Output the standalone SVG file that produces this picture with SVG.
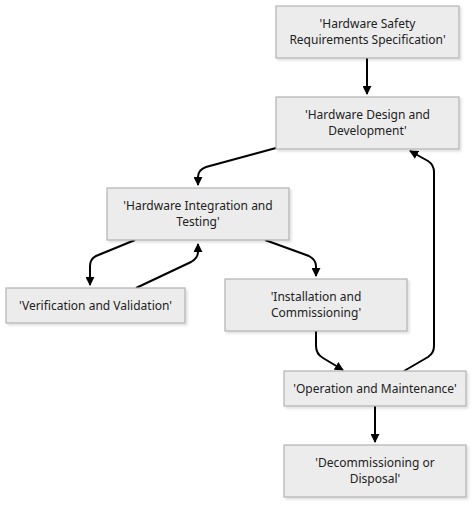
<svg xmlns="http://www.w3.org/2000/svg" width="474" height="505" viewBox="0 0 474 505">
<defs>
<filter id="sh" x="-5%" y="-5%" width="115%" height="130%"><feDropShadow dx="2" dy="2" stdDeviation="1.2" flood-color="#000" flood-opacity="0.12"/></filter>
<marker id="ah" viewBox="0 0 10 10" refX="9" refY="5" markerWidth="9" markerHeight="9" markerUnits="userSpaceOnUse" orient="auto"><path d="M0,0 L10,5 L0,10 z" fill="#000"/></marker>
</defs>
<style>
.n rect{fill:#ececec;stroke:#b3b3b3;stroke-width:1.2;filter:url(#sh)}
.n text{font-family:"Noto Sans","Open Sans",sans-serif;font-size:12px;fill:#222;text-anchor:middle}
.e path{fill:none;stroke:#000;stroke-width:2;marker-end:url(#ah)}
</style>
<rect width="474" height="505" fill="#fff"/>
<g class="e" id="edges">
<path d="M367,58 L367,94"/>
<path d="M276,148 L206,167 Q198,170 198,177 L198,185"/>
<path d="M135,240 L96,256 Q90,259 90,266 L90,285"/>
<path d="M136,288 L191,262 Q198,258 198,252 L198,244"/>
<path d="M265,240 L309,256 Q316,260 316,266 L316,276"/>
<path d="M316,331 L316,346 Q316,354 323,358 L343,370"/>
<path d="M404,371 L428,357 Q434,353 434,346 L434,172 Q434,165 428,161 L410,151"/>
<path d="M375,406 L375,442"/>
</g>
<g class="n" id="n1"><rect x="276" y="6" width="183" height="52"/><text x="367.5" y="28">'Hardware Safety</text><text x="367.5" y="44">Requirements Specification'</text></g>
<g class="n" id="n2"><rect x="276" y="97" width="183" height="52"/><text x="367.5" y="119">'Hardware Design and</text><text x="367.5" y="135">Development'</text></g>
<g class="n" id="n3"><rect x="107" y="188" width="182" height="52"/><text x="198" y="210">'Hardware Integration and</text><text x="198" y="226">Testing'</text></g>
<g class="n" id="n4"><rect x="6" y="288" width="179" height="35"/><text x="95.5" y="309.5">'Verification and Validation'</text></g>
<g class="n" id="n5"><rect x="225" y="279" width="182" height="52"/><text x="316" y="301">'Installation and</text><text x="316" y="317">Commissioning'</text></g>
<g class="n" id="n6"><rect x="284" y="371" width="182" height="35"/><text x="375" y="392.5">'Operation and Maintenance'</text></g>
<g class="n" id="n7"><rect x="284" y="445" width="182" height="52"/><text x="375" y="467">'Decommissioning or</text><text x="375" y="483">Disposal'</text></g>
</svg>
